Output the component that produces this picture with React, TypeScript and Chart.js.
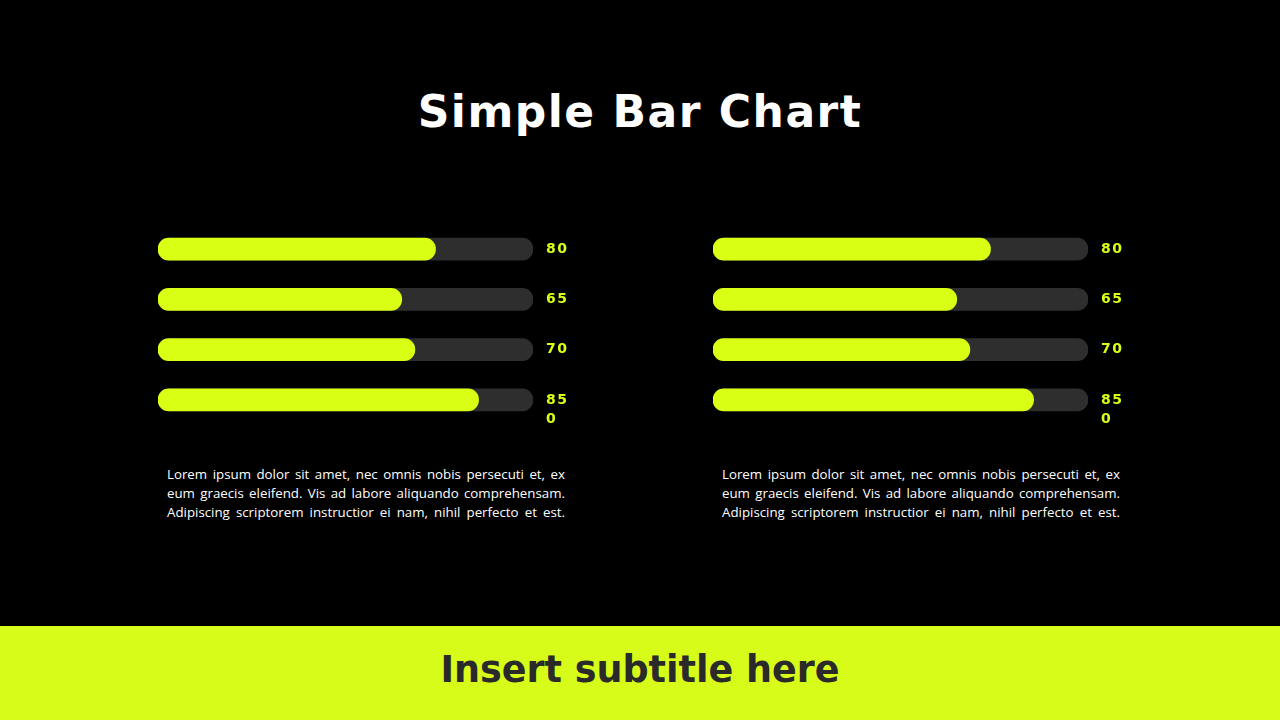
import { useEffect, useRef } from 'react';
import { Chart, registerables } from 'chart.js';

Chart.register(...registerables);

// Bar lengths (percent of the track), and the value labels printed beside them.
const categories = ['A', 'B', 'C', 'D'];
const leftValues = [74, 65, 68.5, 85.5];
const rightValues = [74, 65, 68.5, 85.5];
const valueLabels = ['80', '65', '70', '850'];
const trackValues = [100, 100, 100, 100];

const LIME = '#d9ff14';
const TRACK = '#2e2e2e';
const paragraphLines = [
  'Lorem ipsum dolor sit amet, nec omnis nobis persecuti et, ex',
  'eum graecis eleifend. Vis ad labore aliquando comprehensam.',
  'Adipiscing scriptorem instructior ei nam, nihil perfecto et est.',
];

// Writes the value label right of each track, wrapping when too wide (like the "85 / 0" label).
const valueLabelPlugin = {
  id: 'valueLabels',
  afterDatasetsDraw(chart: Chart) {
    const { ctx, chartArea } = chart;
    const meta = chart.getDatasetMeta(1);
    ctx.save();
    ctx.fillStyle = LIME;
    ctx.font = 'bold 14px "DejaVu Sans", sans-serif';
    (ctx as any).letterSpacing = '1.5px';
    ctx.textBaseline = 'middle';
    ctx.textAlign = 'left';
    meta.data.forEach((bar: any, i: number) => {
      const text = valueLabels[i];
      const lines: string[] = [];
      let cur = '';
      for (const ch of text) {
        if (cur && ctx.measureText(cur + ch).width > 30) {
          lines.push(cur);
          cur = ch;
        } else cur += ch;
      }
      lines.push(cur);
      lines.forEach((l, j) => {
        ctx.fillText(l, chartArea.right + 13, bar.y + j * 19);
      });
    });
    ctx.restore();
  },
};

function ProgressBars({ values }: { values: number[] }) {
  const canvasRef = useRef<HTMLCanvasElement>(null);
  const chartRef = useRef<Chart | null>(null);

  useEffect(() => {
    if (!canvasRef.current) return;
    chartRef.current = new Chart(canvasRef.current, {
      type: 'bar',
      data: {
        labels: categories,
        datasets: [
          {
            data: values,
            backgroundColor: LIME,
            borderRadius: 11,
            borderSkipped: false,
            barThickness: 22,
            grouped: false,
            order: 1,
          },
          {
            data: trackValues,
            backgroundColor: TRACK,
            borderRadius: 11,
            borderSkipped: false,
            barThickness: 22,
            grouped: false,
            order: 2,
          },
        ],
      },
      options: {
        indexAxis: 'y',
        animation: false,
        responsive: false,
        maintainAspectRatio: false,
        layout: { padding: { right: 65, left: 0, top: 0, bottom: 14 } },
        plugins: { legend: { display: false }, tooltip: { enabled: false } },
        scales: {
          x: { display: false, min: 0, max: 100 },
          y: { display: false },
        },
      },
      plugins: [valueLabelPlugin],
    });
    return () => {
      chartRef.current?.destroy();
    };
  }, [values]);

  return <canvas ref={canvasRef} width={440} height={215} style={{ width: 440, height: 215 }} />;
}

function Panel({ left, values }: { left: number; values: number[] }) {
  return (
    <>
      <div style={{ position: 'absolute', left, top: 224, width: 440, height: 215 }}>
        <ProgressBars values={values} />
      </div>
      <div
        style={{
          position: 'absolute',
          left: left + 9,
          top: 465,
          width: 398,
          color: '#fff',
          fontFamily: '"Open Sans", sans-serif',
          fontSize: 13.3,
          lineHeight: '19px',
        }}
      >
        {paragraphLines.map((line) => (
          <div key={line} style={{ textAlign: 'justify', textAlignLast: 'justify', whiteSpace: 'nowrap' }}>
            {line}
          </div>
        ))}
      </div>
    </>
  );
}

export default function App() {
  return (
    <div
      style={{
        position: 'fixed',
        left: 0,
        top: 0,
        width: 1280,
        height: 720,
        background: '#000',
        overflow: 'hidden',
      }}
    >
      <div
        style={{
          position: 'absolute',
          top: 82,
          left: 0,
          width: 1280,
          textAlign: 'center',
          color: '#fff',
          fontFamily: '"DejaVu Sans", sans-serif',
          fontWeight: 900,
          fontSize: 44,
          letterSpacing: 1.5,
          lineHeight: '60px',
        }}
      >
        Simple Bar Chart
      </div>
      <Panel left={158} values={leftValues} />
      <Panel left={713} values={rightValues} />
      <div
        style={{
          position: 'absolute',
          left: 0,
          top: 626,
          width: 1280,
          height: 94,
          background: '#d8fc19',
          display: 'flex',
          alignItems: 'center',
          justifyContent: 'center',
          boxSizing: 'border-box',
          paddingBottom: 8,
          color: '#2a2a2a',
          fontFamily: '"DejaVu Sans", sans-serif',
          fontWeight: 900,
          fontSize: 36.5,
        }}
      >
        Insert subtitle here
      </div>
    </div>
  );
}
